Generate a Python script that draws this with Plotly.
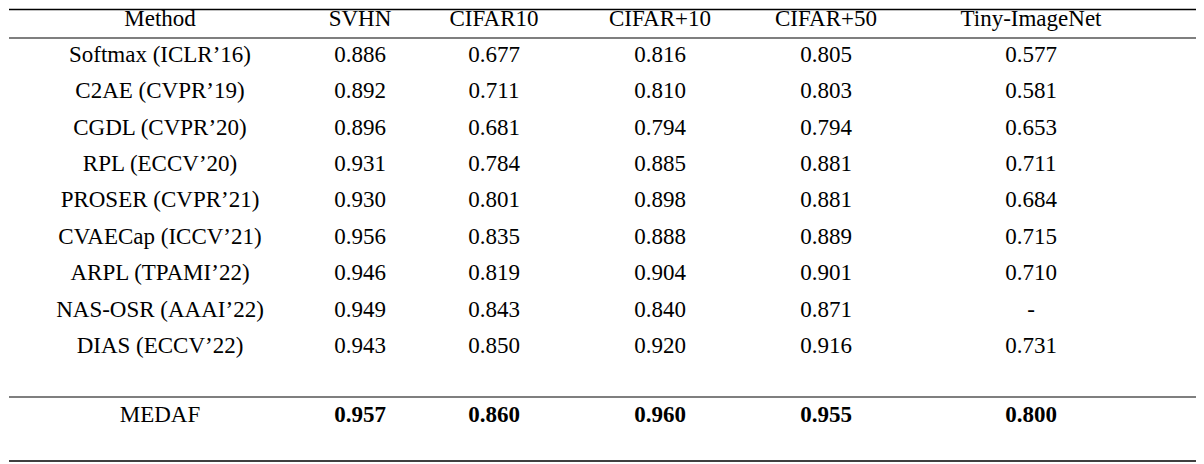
import plotly.graph_objects as go

header = ["Method", "SVHN", "CIFAR10", "CIFAR+10", "CIFAR+50", "Tiny-ImageNet"]
methods = ["Softmax (ICLR’16)", "C2AE (CVPR’19)", "CGDL (CVPR’20)", "RPL (ECCV’20)",
           "PROSER (CVPR’21)", "CVAECap (ICCV’21)", "ARPL (TPAMI’22)", "NAS-OSR (AAAI’22)",
           "DIAS (ECCV’22)", "MEDAF"]
svhn = ["0.886", "0.892", "0.896", "0.931", "0.930", "0.956", "0.946", "0.949", "0.943", "0.957"]
cifar10 = ["0.677", "0.711", "0.681", "0.784", "0.801", "0.835", "0.819", "0.843", "0.850", "0.860"]
cifar_p10 = ["0.816", "0.810", "0.794", "0.885", "0.898", "0.888", "0.904", "0.840", "0.920", "0.960"]
cifar_p50 = ["0.805", "0.803", "0.794", "0.881", "0.881", "0.889", "0.901", "0.871", "0.916", "0.955"]
tiny = ["0.577", "0.581", "0.653", "0.711", "0.684", "0.715", "0.710", "-", "0.731", "0.800"]

col_x = [160, 360, 494, 660, 826, 1031]
row_y = [20, 56, 92, 129, 165, 201, 238, 274, 311, 347, 416]

columns = [methods, svhn, cifar10, cifar_p10, cifar_p50, tiny]
xs, ys, ts = [], [], []
for ci, h in enumerate(header):
    xs.append(col_x[ci]); ys.append(row_y[0]); ts.append(h)
    for ri, v in enumerate(columns[ci]):
        bold = (ri == len(methods) - 1) and ci > 0
        xs.append(col_x[ci]); ys.append(row_y[ri + 1]); ts.append(f"<b>{v}</b>" if bold else v)

fig = go.Figure(go.Scatter(x=xs, y=ys, text=ts, mode="text",
                           textfont=dict(family="Liberation Serif", size=23, color="black"),
                           hoverinfo="skip", cliponaxis=False))
for yl, w in [(9.5, 1.5), (38, 1.2), (397, 1.2), (461, 1.5)]:
    fig.add_shape(type="line", x0=9, x1=1202, y0=yl, y1=yl, line=dict(color="black", width=w))
fig.update_layout(width=1196, height=456, margin=dict(l=0, r=0, t=0, b=0),
                  plot_bgcolor="white", paper_bgcolor="white", showlegend=False,
                  xaxis=dict(range=[8, 1204], visible=False, fixedrange=True),
                  yaxis=dict(range=[464, 8], visible=False, fixedrange=True))
fig.write_html("out.html")
